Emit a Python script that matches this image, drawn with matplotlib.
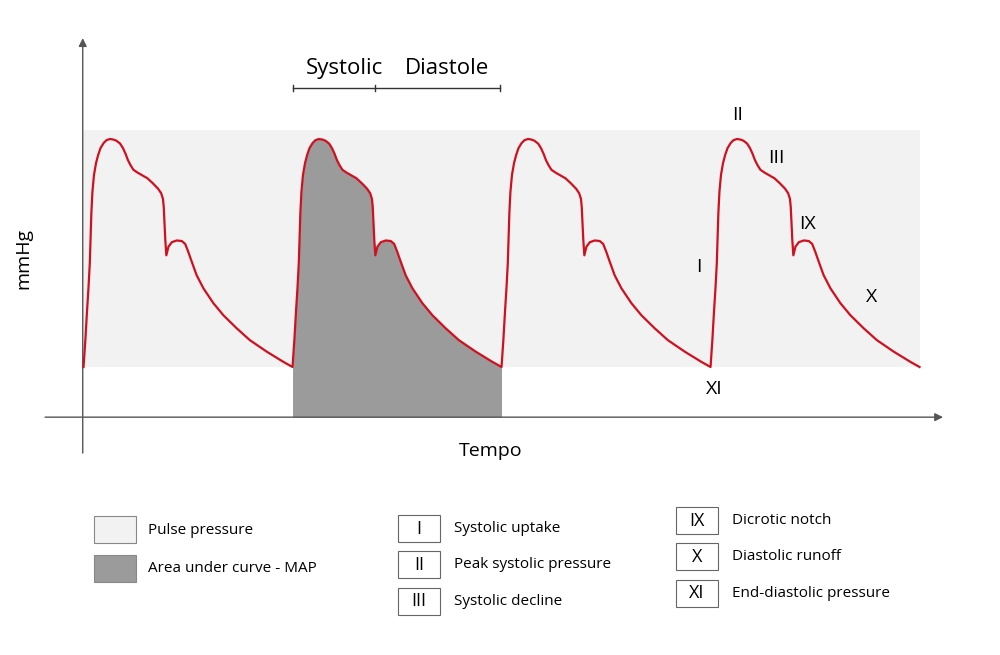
import matplotlib.pyplot as plt
from matplotlib.patches import Rectangle
import numpy as np

plt.rcParams['font.family'] = ['Open Sans', 'DejaVu Sans']

# one heart beat, time (s) from beat start and pressure (mmHg)
beat_t = [0.000, 0.007, 0.013, 0.019, 0.024, 0.027, 0.030, 0.034, 0.040, 0.048,
          0.056, 0.065, 0.077, 0.088, 0.101, 0.115, 0.126, 0.140, 0.151, 0.161,
          0.170, 0.180, 0.191, 0.207, 0.226, 0.245, 0.266, 0.285, 0.297, 0.304,
          0.307, 0.310, 0.313, 0.317, 0.325, 0.338, 0.357, 0.376, 0.389, 0.401,
          0.414, 0.433, 0.459, 0.497, 0.535, 0.586, 0.637, 0.701, 0.765, 0.800]
beat_p = [80.0, 84.7, 89.5, 93.9, 98.2, 102.6, 107.0, 110.7, 113.7, 115.8,
          117.2, 118.4, 119.3, 119.8, 120.0, 119.9, 119.7, 119.2, 118.4, 117.4,
          116.3, 115.4, 114.6, 114.1, 113.6, 113.1, 112.2, 111.3, 110.5, 109.5,
          108.1, 105.3, 102.3, 99.6, 101.1, 101.9, 102.2, 102.1, 101.6, 100.2,
          98.5, 96.1, 93.8, 91.2, 89.1, 86.8, 84.7, 82.7, 80.9, 80.0]
period = 0.8
n_beats = 4
map_beat = 1          # beat shaded as area under curve
notch_t = 0.317       # end of systole within a beat

diastolic = 80.0
systolic_top = 121.6
axis_p = 71.2

# labels on the 4th beat: (text, time, pressure)
point_labels = [("II", 2.502, 124.2), ("III", 2.651, 116.7), ("IX", 2.770, 105.1),
                ("I", 2.356, 97.5), ("X", 3.018, 92.3), ("XI", 2.414, 76.1)]

legend_fill = [("Pulse pressure", '#f2f2f2'), ("Area under curve - MAP", '#9b9b9b')]
legend_roman_1 = [("I", "Systolic uptake"), ("II", "Peak systolic pressure"),
                  ("III", "Systolic decline")]
legend_roman_2 = [("IX", "Dicrotic notch"), ("X", "Diastolic runoff"),
                  ("XI", "End-diastolic pressure")]

# build the full trace
t_all, p_all = [], []
for k in range(n_beats):
    t_all += [k * period + t for t in beat_t]
    p_all += beat_p
t_all = np.array(t_all)
p_all = np.array(p_all)

fig = plt.figure(figsize=(10, 6.55), dpi=100)
ax = fig.add_axes([0, 0, 1, 1])
ax.set_xlim(-0.3197, 3.508)
ax.set_ylim(29.47, 144.39)
ax.axis('off')

red = '#d0101e'
axcol = '#555555'

# pulse pressure band
ax.add_patch(Rectangle((-0.002, diastolic), n_beats * period + 0.002,
                       systolic_top - diastolic, facecolor='#f2f2f2',
                       edgecolor='none', zorder=0))

# MAP area
bt = np.array(beat_t) + map_beat * period
ax.fill_between(bt, axis_p, beat_p, color='#9b9b9b', lw=0, zorder=1)

ax.plot(t_all, p_all, color=red, lw=1.6, zorder=3, solid_joinstyle='round')

# axes arrows
ax.annotate('', xy=(3.29, axis_p), xytext=(-0.147, axis_p),
            arrowprops=dict(arrowstyle='-|>', color=axcol, lw=1,
                            mutation_scale=12, shrinkA=0, shrinkB=0), zorder=2)
ax.annotate('', xy=(-0.003, 137.7), xytext=(-0.003, 64.9),
            arrowprops=dict(arrowstyle='-|>', color=axcol, lw=1,
                            mutation_scale=12, shrinkA=0, shrinkB=0), zorder=2)

ax.text(-0.23, 99, "mmHg", rotation=90, ha='center', va='center', fontsize=14)
ax.text(1.56, 65.2, "Tempo", ha='center', va='center', fontsize=14)

# systolic / diastole bracket
b0 = map_beat * period
b1 = b0 + notch_t
b2 = b0 + period - 0.006
yb = 128.9
ax.plot([b0, b2], [yb, yb], color='#333333', lw=1)
for xb in (b0, b1, b2):
    ax.plot([xb, xb], [yb - 0.5, yb + 0.5], color='#333333', lw=1)
ax.text(0.997, 132.3, "Systolic", ha='center', va='center', fontsize=16)
ax.text(1.391, 132.3, "Diastole", ha='center', va='center', fontsize=16)

for txt, tx, py in point_labels:
    ax.text(tx, py, txt, ha='center', va='center', fontsize=14)

# legend
def fx(x):
    return x / 1000

def fy(y):
    return 1 - y / 655

bw, bh = 0.042, 27 / 655
for i, (txt, col) in enumerate(legend_fill):
    y0 = 516 + i * 39
    fig.patches.append(Rectangle((fx(94), fy(y0 + 27)), bw, bh, facecolor=col,
                                 edgecolor='#888888', lw=0.8,
                                 transform=fig.transFigure))
    fig.text(fx(148), fy(y0 + 14), txt, ha='left', va='center', fontsize=11)

for col_x, items, top in ((398, legend_roman_1, 515), (676, legend_roman_2, 507)):
    for i, (num, txt) in enumerate(items):
        y0 = top + i * 36.3
        fig.patches.append(Rectangle((fx(col_x), fy(y0 + 27)), bw, bh,
                                     facecolor='white', edgecolor='#666666',
                                     lw=0.8, transform=fig.transFigure))
        fig.text(fx(col_x + 21), fy(y0 + 13.5), num, ha='center', va='center',
                 fontsize=13)
        fig.text(fx(col_x + 56), fy(y0 + 13.5), txt, ha='left', va='center',
                 fontsize=11)

fig.savefig('out.png', dpi=100)
